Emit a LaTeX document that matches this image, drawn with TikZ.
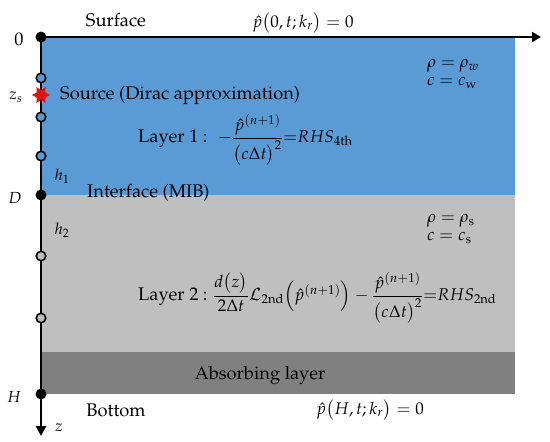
\documentclass[tikz,border=0pt]{standalone}
\usepackage{amsmath}
\usepackage[T1]{fontenc}
\usepackage{mathpazo}
\usetikzlibrary{shapes.geometric,arrows.meta}
\definecolor{water}{RGB}{91,155,213}
\definecolor{sed}{RGB}{191,191,191}
\definecolor{absorb}{RGB}{128,128,128}
\definecolor{srcred}{RGB}{220,20,20}
\newcommand{\msz}{\fontsize{16}{19}\selectfont}
\newcommand{\esz}{\fontsize{17}{20}\selectfont}
\begin{document}
\begin{tikzpicture}[x=1pt,y=-1pt,
  font=\fontsize{18.3}{22}\selectfont,
  txt/.style={inner sep=0pt},
  fullpt/.style={circle,fill=black,minimum size=11pt,inner sep=0pt},
  openpt/.style={circle,draw=black,line width=1.6pt,minimum size=9.5pt,inner sep=0pt},
  axisline/.style={line width=2.6pt},
  srcstar/.style={star,star points=6,star point ratio=0.55,fill=srcred,minimum size=10pt,inner sep=0pt}]
\useasboundingbox (0,0) rectangle (550,442);
% layers
\fill[water] (41,37) rectangle (515,195);
\fill[sed] (41,195) rectangle (515,352);
\fill[absorb] (41,352) rectangle (515,394);
% axis nodes
\coordinate (xend) at (541,37);
\coordinate (zend) at (41,436);
\draw[axisline,-{Triangle[length=9pt,width=10pt]}] (41,37) -- (xend);
\draw[axisline,-{Triangle[length=10pt,width=10pt]}] (41,37) -- (zend);
\node[fullpt] (p0) at (41,37) {};
\node[openpt,fill=water] (w1) at (41,78) {};
\node[srcstar] (src) at (41,95) {};
\node[openpt,fill=water] (w2) at (41,117) {};
\node[openpt,fill=water] (w3) at (41,156) {};
\node[fullpt] (pD) at (41,195) {};
\node[openpt,fill=sed] (s1) at (41,256) {};
\node[openpt,fill=sed] (s2) at (41,318) {};
\node[fullpt] (pH) at (41,394) {};
% axis labels
\node[txt] (l0) at (19,39) {0};
\node[txt] (lzs) at (16,97) {\msz$z_s$};
\node[txt] (lD) at (15,198) {\msz$D$};
\node[txt] (lH) at (14,397) {\msz$H$};
\node[txt] (lh1) at (62,176) {\msz$h_1$};
\node[txt] (lh2) at (62,230) {\msz$h_2$};
\node[txt] (lz) at (59,428) {\msz$z$};
% texts
\node[txt] (surf) at (116,20) {Surface};
\node[txt] (bc0) at (303,23) {\esz$\hat p\bigl(0,t;k_r\bigr)=0$};
\node[txt,anchor=west] (source) at (60,95) {Source (Dirac approximation)};
\node[txt,anchor=west] (eq1) at (138,140) {Layer 1 : \ {\esz$-\dfrac{\hat p^{(n+1)}}{\bigl(c\Delta t\bigr)^2}{=}RHS_{\mathrm{4th}}$}};
\node[txt,anchor=west,align=left] (propw) at (427,74) {\esz$\rho=\rho_w$\\[-4pt]\esz$c=c_{\mathrm{w}}$};
\node[txt,anchor=west] (iface) at (87,193) {Interface (MIB)};
\node[txt,anchor=west,align=left] (props) at (427,229) {\esz$\rho=\rho_{\mathrm{s}}$\\[-4pt]\esz$c=c_{\mathrm{s}}$};
\node[txt,anchor=west] (eq2) at (138,298) {Layer 2 : {\esz$\dfrac{d\bigl(z\bigr)}{2\Delta t}\mathcal{L}_{\mathrm{2nd}}\Bigl(\hat p^{(n+1)}\Bigr)-\dfrac{\hat p^{(n+1)}}{\bigl(c\Delta t\bigr)^2}{=}RHS_{\mathrm{2nd}}$}};
\node[txt] (absl) at (260,375) {Absorbing layer};
\node[txt] (bottom) at (116,410) {Bottom};
\node[txt] (bcH) at (370,410) {\esz$\hat p\bigl(H,t;k_r\bigr)=0$};
\end{tikzpicture}
\end{document}
